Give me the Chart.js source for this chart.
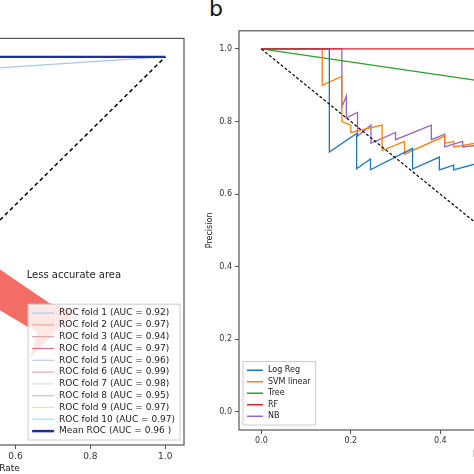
<!DOCTYPE html>
<html><head><meta charset="utf-8">
<script src="https://cdn.jsdelivr.net/npm/chart.js@4"></script>
<style>
body{margin:0;width:474px;height:474px;overflow:hidden;position:relative;background:#fff;font-family:"DejaVu Sans",sans-serif}
.box{position:absolute}
#lbl{position:absolute;left:209px;top:-4px;font-size:22px;color:#111}
</style></head><body>
<div class="box" style="left:-268px;top:30px;width:456px;height:444px"><canvas id="rocChart"></canvas></div>
<div class="box" style="left:205px;top:23px;width:530px;height:437px"><canvas id="prChart"></canvas></div>
<div id="lbl">b</div>
<script>
// panel a: ROC folds (only right part is visible)
const rocLabels = ['ROC fold 1 (AUC = 0.92)','ROC fold 2 (AUC = 0.97)','ROC fold 3 (AUC = 0.94)','ROC fold 4 (AUC = 0.97)','ROC fold 5 (AUC = 0.96)','ROC fold 6 (AUC = 0.99)','ROC fold 7 (AUC = 0.98)','ROC fold 8 (AUC = 0.95)','ROC fold 9 (AUC = 0.97)','ROC fold 10 (AUC = 0.97)','Mean ROC (AUC = 0.96 )'];
const rocColors = ['#a9c9e3','#f2a88c','#d9a3a3','#d8738a','#c3cbe6','#e3a7b6','#e6dede','#c9c1d3','#e8e6a3','#a6dede','#1f2f9a'];
const rocFpr = [
  [0,0,0.1,1],[0,0,0.04,1],[0,0,0.08,1],[0,0,0.04,1],[0,0,0.05,1],
  [0,0,0.01,1],[0,0,0.02,1],[0,0,0.06,1],[0,0,0.04,1],[0,0,0.04,1],[0,0,0.05,1]];
const rocTpr = [
  [0,0.7,0.94,1],[0,0.9,1,1],[0,0.8,1,1],[0,0.9,1,1],[0,0.85,1,1],
  [0,0.97,1,1],[0,0.95,1,1],[0,0.85,1,1],[0,0.9,1,1],[0,0.9,1,1],[0,0.88,1,1]];
const chanceX = [0,1];
const chanceY = [0,1];
const rocTicks = [0,0.2,0.4,0.6,0.8,1.0];

// panel b: precision-recall
const prLabels = ['Log Reg','SVM linear','Tree','RF','NB'];
const prColors = ['#1f77b4','#ff7f0e','#2ca02c','#d62728','#9467bd'];
const prRecall = [
  [0,0.152,0.152,0.213,0.213,0.244,0.244,0.338,0.338,0.398,0.398,0.43,0.43,0.5,0.5,0.6,0.6,0.75,0.75,1.0],
  [0,0.136,0.136,0.18,0.18,0.2,0.2,0.27,0.27,0.32,0.32,0.41,0.41,0.43,0.43,0.5,0.5,0.65,0.65,1.0],
  [0,1.0],
  [0,1.0],
  [0,0.18,0.18,0.19,0.19,0.215,0.215,0.245,0.245,0.3,0.3,0.38,0.38,0.41,0.41,0.45,0.45,0.6,0.6,1.0]];
const prPrecision = [
  [1,1,0.716,0.767,0.67,0.697,0.667,0.726,0.669,0.702,0.667,0.68,0.667,0.69,0.67,0.7,0.66,0.7,0.64,0.65],
  [1,1,0.90,0.924,0.80,0.79,0.77,0.79,0.72,0.745,0.71,0.76,0.74,0.745,0.73,0.745,0.72,0.74,0.7,0.71],
  [1,0.82],
  [1,1],
  [1,1,0.84,0.87,0.81,0.825,0.76,0.79,0.74,0.77,0.75,0.79,0.75,0.765,0.73,0.745,0.73,0.75,0.72,0.73]];
const prTicks = [0,0.2,0.4,0.6,0.8,1.0];

function pts(xs, ys){ return xs.map((x,i)=>({x:x,y:ys[i]})); }

const frame = {
  id:'frame',
  afterDraw(chart){
    const a = chart.chartArea, c = chart.ctx;
    c.save(); c.strokeStyle='#555'; c.lineWidth=1.2;
    c.strokeRect(a.left,a.top,a.right-a.left,a.bottom-a.top); c.restore();
  }
};

// legend box drawn inside the plot, lower corner
function boxLegend(items, fontSize, rowH, line, atRight){
  return {
    id:'boxLegend',
    afterDatasetsDraw(chart){
      const c = chart.ctx, a = chart.chartArea;
      c.save();
      c.font = fontSize + 'px "DejaVu Sans"';
      let w = 0;
      items.forEach(it=>{ w = Math.max(w, c.measureText(it.label).width); });
      w += line + 14;
      const h = items.length*rowH + 6;
      const x0 = atRight ? a.right-4-w : a.left+4, y0 = a.bottom - 5 - h;
      c.fillStyle='rgba(255,255,255,0.85)'; c.strokeStyle='#ccc'; c.lineWidth=1;
      c.fillRect(x0,y0,w,h); c.strokeRect(x0,y0,w,h);
      items.forEach((it,i)=>{
        const y = y0 + 3 + rowH*i + rowH/2;
        c.strokeStyle = it.color; c.lineWidth = it.width;
        c.beginPath(); c.moveTo(x0+4,y); c.lineTo(x0+4+line,y); c.stroke();
        c.fillStyle='#222'; c.textBaseline='middle';
        c.fillText(it.label, x0+9+line, y);
      });
      c.restore();
    }
  };
}

const arrow = {
  id:'arrow',
  beforeDatasetsDraw(chart){
    const c = chart.ctx, sx = chart.scales.x, sy = chart.scales.y;
    // decorative arrow, placed in data space
    const poly = [[0.45,0.5],[0.69,0.334],[0.763,0.313],[0.637,0.183],[0.659,0.254],[0.45,0.38]];
    c.save(); c.fillStyle='rgba(242,92,84,0.9)'; c.beginPath();
    poly.forEach((p,i)=>{ const X=sx.getPixelForValue(p[0]), Y=sy.getPixelForValue(p[1]); i?c.lineTo(X,Y):c.moveTo(X,Y); });
    c.closePath(); c.fill();
    c.fillStyle='#222'; c.font='10px "DejaVu Sans"'; c.textBaseline='middle';
    c.fillText('Less accurate area', sx.getPixelForValue(0.63), sy.getPixelForValue(0.408));
    c.restore();
  }
};

const rocSets = rocLabels.map((l,i)=>({
  label:l, data:pts(rocFpr[i],rocTpr[i]), borderColor:rocColors[i],
  borderWidth: i==10?2.2:1.2, pointRadius:0, order: i==10?0:1
}));
rocSets.push({label:'chance', data:pts(chanceX,chanceY), borderColor:'#000', borderDash:[4,3], borderWidth:1.5, pointRadius:0});

function axes(ticks, xt, yt, yw, xh, fs){
  const tk = {color:'#333', font:{size:fs, family:'DejaVu Sans'}};
  return {
    x:{type:'linear', min:-0.05, max:1.05,
      afterBuildTicks(s){ s.ticks = ticks.map(v=>({value:v})); },
      afterFit(s){ s.height = xh; },
      grid:{drawOnChartArea:false, tickLength:4, color:'#555'}, border:{display:false},
      ticks:Object.assign({maxRotation:0, padding:2, callback:v=>v.toFixed(1)}, tk),
      title:{display:true, text:xt, color:'#222', font:{size:fs, family:'DejaVu Sans'}, padding:0}},
    y:{type:'linear', min:-0.05, max:1.05,
      afterBuildTicks(s){ s.ticks = ticks.map(v=>({value:v})); },
      afterFit(s){ s.width = yw; },
      grid:{drawOnChartArea:false, tickLength:4, color:'#555'}, border:{display:false},
      ticks:Object.assign({padding:3, callback:v=>v.toFixed(1)}, tk),
      title:{display:true, text:yt, color:'#222', font:{size:fs, family:'DejaVu Sans'}, padding:0}}
  };
}

new Chart(document.getElementById('rocChart'), {
  type:'line',
  data:{datasets:rocSets},
  options:{
    responsive:true, maintainAspectRatio:false, animation:false,
    layout:{padding:{right:4,top:0}},
    scales:axes(rocTicks,'False Positive Rate','True Positive Rate',40,29,9),
    plugins:{legend:{display:false}, tooltip:{enabled:false}}
  },
  plugins:[frame, arrow, boxLegend(rocLabels.map((l,i)=>({label:l,color:rocColors[i],width:i==10?2.5:1.2})), 9, 11.8, 22, true)]
});

const prSets = prLabels.map((l,i)=>({
  label:l, data:pts(prRecall[i],prPrecision[i]), borderColor:prColors[i],
  borderWidth:1.3, pointRadius:0, order: i==3?0:1
}));
prSets.push({label:'chance', data:pts([0,1],[1,0]), borderColor:'#000', borderDash:[3,2], borderWidth:1.2, pointRadius:0});

new Chart(document.getElementById('prChart'), {
  type:'line',
  data:{datasets:prSets},
  options:{
    responsive:true, maintainAspectRatio:false, animation:false,
    layout:{padding:{right:4,top:0}},
    scales:axes(prTicks,'Recall','Precision',34,30,8),
    plugins:{legend:{display:false}, tooltip:{enabled:false}}
  },
  plugins:[frame, boxLegend(prLabels.map((l,i)=>({label:l,color:prColors[i],width:1.5})), 8, 11.5, 16, false)]
});
</script>
</body></html>
